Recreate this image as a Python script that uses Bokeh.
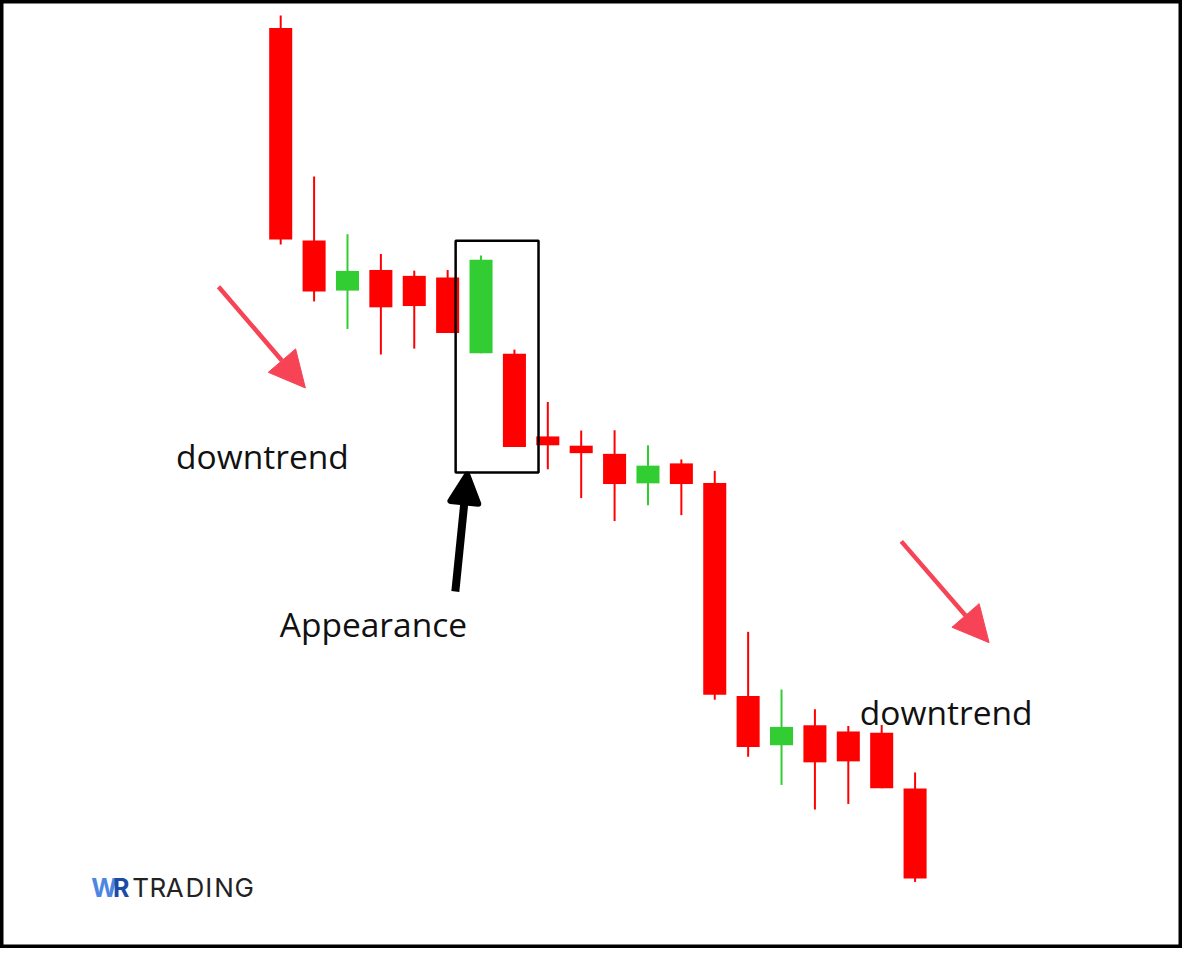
from bokeh.plotting import figure
from bokeh.models import Range1d, Arrow, NormalHead, ColumnDataSource, BoxAnnotation
from bokeh.core.properties import value
from bokeh.embed import file_html
from bokeh.resources import INLINE

# ---- candle data (arbitrary price units) ----
opens  = [93.60, 72.00, 66.90, 69.00, 68.40, 68.23, 60.53, 60.47, 52.07, 51.13,
          50.30, 47.30, 49.33, 47.33, 25.67, 20.67, 22.70, 22.07, 21.93, 16.27]
highs  = [94.87, 78.50, 72.63, 70.63, 68.93, 69.00, 70.47, 60.90, 55.57, 52.67,
          52.70, 51.17, 49.73, 48.57, 32.20, 26.33, 24.33, 22.63, 22.73, 17.90]
lows   = [71.60, 65.80, 63.00, 60.40, 61.00, 62.60, 60.53, 51.00, 48.73, 45.80,
          43.47, 45.07, 44.07, 25.30, 19.50, 16.63, 14.13, 14.70, 16.30, 6.77]
closes = [72.10, 66.80, 68.90, 65.20, 65.33, 62.60, 70.03, 51.00, 51.17, 50.37,
          47.23, 49.10, 47.23, 25.80, 20.50, 22.53, 18.93, 19.03, 16.30, 7.13]

BULL = "#32CD32"
BEAR = "#FF0000"
ARROW = "#F64456"

idx = list(range(len(opens)))
colors = [BULL if c > o else BEAR for o, c in zip(opens, closes)]
top = [max(o, c) for o, c in zip(opens, closes)]
bot = [min(o, c) for o, c in zip(opens, closes)]

src = ColumnDataSource(dict(x=idx, high=highs, low=lows, top=top, bottom=bot, color=colors))

# reference layout helpers (pixel grid of the original 1198x964 image)
STEP = 33.84
X0 = 284.0
def px(xr):
    return (xr - X0) / STEP
def py(yr):
    return (964.0 - yr) / 10.0

W, H = 1182, 948
p = figure(width=W, height=H, output_backend="svg", toolbar_location=None,
           x_range=Range1d(px(0), px(1198)), y_range=Range1d(py(964), py(0)),
           min_border=0, background_fill_color="white", border_fill_color="white")
p.axis.visible = False
p.grid.visible = False
p.outline_line_color = "black"
p.outline_line_width = 6

p.segment(x0="x", y0="high", x1="x", y1="low", color="color", line_width=2, source=src)
p.vbar(x="x", top="top", bottom="bottom", width=0.69, fill_color="color",
       line_color=None, source=src)

# highlight box around the appearance pattern
box = BoxAnnotation(left=px(461.3), right=px(545.3), top=py(244.3), bottom=py(480),
                    fill_alpha=0, line_color="black", line_alpha=1.0, line_width=2.5)
p.add_layout(box)

# trend arrows
for (x0, y0, x1, y1) in [(221, 291, 309, 394), (913, 550, 1002, 653)]:
    p.add_layout(Arrow(x_start=px(x0), y_start=py(y0), x_end=px(x1), y_end=py(y1),
                       line_color=ARROW, line_width=4.5,
                       end=NormalHead(size=36, fill_color=ARROW, line_color=ARROW, line_width=1)))

p.add_layout(Arrow(x_start=px(461), y_start=py(601), x_end=px(473), y_end=py(482),
                   line_color="black", line_width=8,
                   end=NormalHead(size=28, fill_color="black", line_color="black",
                                  line_width=6, line_join="round")))

font = value("Open Sans")
p.text(x=[px(178), px(871)], y=[py(463), py(723)], text=["downtrend", "downtrend"],
       text_font=font, text_font_size="33.5px", text_color="#111111",
       text_baseline="alphabetic", text_align="left")
p.text(x=[px(283)], y=[py(634)], text=["Appearance"],
       text_font=font, text_font_size="33.5px", text_color="#111111",
       text_baseline="alphabetic", text_align="left")

# logo
p.text(x=[px(92)], y=[py(902)], text=["W"], text_font=value("Inter"),
       text_font_size="25px", text_font_style="bold", text_color="#4C86E3",
       text_baseline="alphabetic")
p.text(x=[px(114)], y=[py(902)], text=["R"], text_font=value("Inter"),
       text_font_size="25px", text_font_style="bold", text_color="#1B4BA6",
       text_baseline="alphabetic")
logo_letters = list("TRADING")
logo_centres = [142.0, 159.5, 176.5, 197.0, 211.0, 226.5, 247.0]
p.text(x=[px(c) for c in logo_centres], y=[py(902)] * len(logo_letters), text=logo_letters,
       text_font=value("Inter"), text_font_size="26px", text_color="#222222",
       text_baseline="alphabetic", text_align="center")

open("out.html", "w").write(file_html(p, INLINE))
